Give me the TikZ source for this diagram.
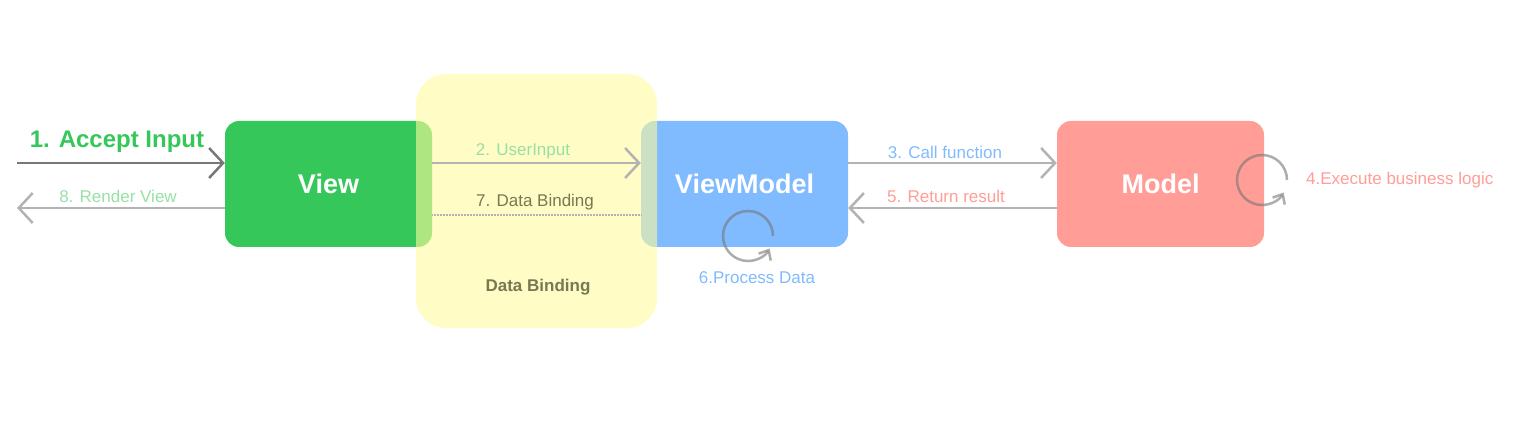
\documentclass[tikz,border=0pt]{standalone}
\usepackage{fontspec}
\setmainfont{Liberation Sans}
\usetikzlibrary{arrows.meta}
\definecolor{vgreen}{HTML}{36C75A}
\definecolor{vblue}{HTML}{80BAFF}
\definecolor{vred}{HTML}{FF9D96}
\definecolor{yel}{HTML}{FFFC9E}
\definecolor{lgray}{HTML}{B3B3B3}
\definecolor{dgray}{HTML}{777777}
\definecolor{lgreen}{HTML}{97E0A5}
\definecolor{olive}{HTML}{787852}
\begin{document}
\begin{tikzpicture}[x=1pt,y=-1pt,
 box/.style={rounded corners=14pt,inner sep=0pt,minimum width=207pt,minimum height=126pt,text=white,font=\bfseries\fontsize{27}{27}\selectfont},
 arr/.style={line width=2.5pt,draw=lgray,-{Straight Barb[length=14pt,width=30pt,line width=2.5pt]}},
 lbl/.style={font=\fontsize{17}{17}\selectfont,inner sep=1pt}]
\useasboundingbox (0,0) rectangle (1520,443);
\node[box,fill=vgreen] (view) at (328.5,184) {View};
\node[box,fill=vblue] (vm) at (744.5,184) {ViewModel};
\node[box,fill=vred] (model) at (1160.5,184) {Model};
\fill[yel,opacity=0.6,rounded corners=30pt] (416,74) rectangle (657,328);
\node[font=\bfseries\fontsize{17}{17}\selectfont,text=olive] (db) at (538,287) {Data Binding};
\coordinate (inS) at (17,163);
\coordinate (outE) at (17,208);
\draw[arr,draw=dgray] (inS) -- (view.west|-inS);
\node[lbl,text=vgreen,font=\bfseries\fontsize{24}{24}\selectfont,anchor=south] (l1) at (117,154) {1. Accept Input};
\draw[arr] (view.west|-outE) -- (outE);
\node[lbl,text=lgreen,anchor=south] at (118,204) {8. Render View};
\draw[arr] (view.east|-inS) -- (vm.west|-inS);
\node[lbl,text=lgreen,anchor=south] at (523,160) {2. UserInput};
\draw[line width=2.5pt,draw=lgray,dotted,line cap=butt,dash pattern=on 1pt off 0.5pt] (432,215) -- (641,215);
\node[lbl,text=olive,anchor=south] at (535,211) {7. Data Binding};
\draw[arr] (vm.east|-inS) -- (model.west|-inS);
\node[lbl,text=vblue,anchor=south] at (945,160) {3. Call function};
\draw[arr] (model.west|-outE) -- (vm.east|-outE);
\node[lbl,text=vred,anchor=south] at (946,204) {5. Return result};
\draw[line width=2.5pt,draw=dgray,opacity=0.6,-{Straight Barb[length=8pt,width=14pt,line width=2.5pt]}] (773,236) arc[start angle=0,end angle=330,radius=25pt];
\node[lbl,text=vblue] at (757,278) {6.Process Data};
\draw[line width=2.5pt,draw=dgray,opacity=0.6,-{Straight Barb[length=8pt,width=14pt,line width=2.5pt]}] (1287,180) arc[start angle=0,end angle=330,radius=25pt];
\node[lbl,text=vred,anchor=west] at (1305,180) {4.Execute business logic};
\end{tikzpicture}
\end{document}
